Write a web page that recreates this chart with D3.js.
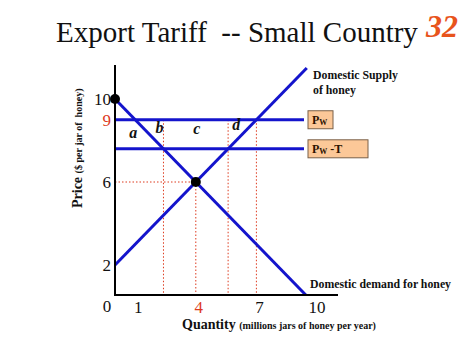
<!DOCTYPE html>
<html>
<head>
<meta charset="utf-8">
<script src="https://cdn.jsdelivr.net/npm/d3@7"></script>
<style>
  body { margin: 0; background: #fff; }
  svg text { font-family: "Liberation Serif", "Times New Roman", serif; }
</style>
</head>
<body>
<svg id="chart"></svg>
<script>
// prices
const worldPrice = 9;
const tariffPrice = 7.6;     // Pw - T
const eqPrice = 6;
const eqQty = 4;
// demand: P = 10 - Q, supply: P = 2 + Q
const demandIntercept = 10;
const supplyIntercept = 2;

const priceTicks = [2, 6, 9, 10];
const qtyTicks = [1, 4, 7, 10];

// quantities where dotted guides drop to the axis
const guideQty = [2.4, 5.6, 7];

const areaLabels = [
  { t: 'a', q: 0.9, p: 8.1 },
  { t: 'b', q: 2.2, p: 8.35 },
  { t: 'c', q: 4.05, p: 8.3 },
  { t: 'd', q: 6.0, p: 8.5 }
];

const W = 474, H = 355;
const svg = d3.select('#chart').attr('width', W).attr('height', H);

const x = d3.scaleLinear().domain([0, 10]).range([115, 317]);
const y = d3.scaleLinear().domain([2, 10]).range([265, 99]);
const floorY = 295, topY = 65, rightX = 338;

const blue = '#1414cc';
const red = '#dd3a1e';

// title
svg.append('text')
  .attr('x', 237).attr('y', 42)
  .attr('text-anchor', 'middle')
  .attr('font-size', 29)
  .attr('fill', '#111')
  .attr('xml:space', 'preserve')
  .text('Export Tariff  -- Small Country');

svg.append('text')
  .attr('x', 442).attr('y', 37)
  .attr('text-anchor', 'middle')
  .attr('font-size', 32)
  .attr('font-weight', 'bold')
  .attr('font-style', 'italic')
  .attr('fill', '#e8541c')
  .text('32');

// dotted guides
const g = svg.append('g');
guideQty.forEach(q => {
  g.append('line')
    .attr('x1', x(q)).attr('x2', x(q))
    .attr('y1', y(worldPrice)).attr('y2', floorY)
    .attr('stroke', red).attr('stroke-width', 1)
    .attr('stroke-dasharray', '1.5,2');
});
g.append('line')
  .attr('x1', x(eqQty)).attr('x2', x(eqQty))
  .attr('y1', y(eqPrice)).attr('y2', floorY)
  .attr('stroke', red).attr('stroke-width', 1)
  .attr('stroke-dasharray', '1.5,2');
g.append('line')
  .attr('x1', x(0)).attr('x2', x(eqQty))
  .attr('y1', y(eqPrice)).attr('y2', y(eqPrice))
  .attr('stroke', red).attr('stroke-width', 1)
  .attr('stroke-dasharray', '1.5,2');

// price lines
const lineEnd = 304;
[worldPrice, tariffPrice].forEach(p => {
  g.append('line')
    .attr('x1', x(0)).attr('x2', lineEnd)
    .attr('y1', y(p)).attr('y2', y(p))
    .attr('stroke', blue).attr('stroke-width', 3);
});

// demand and supply
const pFloor = y.invert(floorY);
const demand = [[0, demandIntercept], [demandIntercept - pFloor, pFloor]];
const pTop = y.invert(68);
const supply = [[0, supplyIntercept], [pTop - supplyIntercept, pTop]];
const line = d3.line().x(d => x(d[0])).y(d => y(d[1]));
[demand, supply].forEach(d => {
  g.append('path').attr('d', line(d))
    .attr('fill', 'none').attr('stroke', blue).attr('stroke-width', 3);
});

// axes
g.append('line').attr('x1', x(0)).attr('x2', x(0)).attr('y1', topY).attr('y2', floorY)
  .attr('stroke', '#000').attr('stroke-width', 2);
g.append('line').attr('x1', x(0) - 1).attr('x2', rightX).attr('y1', floorY).attr('y2', floorY)
  .attr('stroke', '#000').attr('stroke-width', 2);

// dots
g.append('circle').attr('cx', x(0)).attr('cy', y(demandIntercept)).attr('r', 5).attr('fill', '#000');
g.append('circle').attr('cx', x(eqQty)).attr('cy', y(eqPrice)).attr('r', 5).attr('fill', '#000');

// tick labels
svg.selectAll('.ptick').data(priceTicks).enter().append('text')
  .attr('class', 'ptick')
  .attr('x', 111).attr('y', d => y(d) + 6)
  .attr('text-anchor', 'end')
  .attr('font-size', 17)
  .attr('fill', d => d === worldPrice ? red : '#111')
  .text(d => d);

svg.selectAll('.qtick').data(qtyTicks).enter().append('text')
  .attr('class', 'qtick')
  .attr('x', d => x(d) + (d === 10 ? 0 : 3))
  .attr('y', 313)
  .attr('text-anchor', 'middle')
  .attr('font-size', 17)
  .attr('fill', d => d === eqQty ? red : '#111')
  .text(d => d);

svg.append('text').attr('x', 107).attr('y', 312)
  .attr('text-anchor', 'middle').attr('font-size', 17).attr('fill', '#111').text('0');

// area labels
svg.selectAll('.area').data(areaLabels).enter().append('text')
  .attr('x', d => x(d.q)).attr('y', d => y(d.p))
  .attr('text-anchor', 'middle')
  .attr('font-size', 16).attr('font-weight', 'bold').attr('font-style', 'italic')
  .attr('fill', '#111')
  .text(d => d.t);

// price boxes
const boxes = [
  { p: worldPrice, w: 25, sub: '' },
  { p: tariffPrice, w: 60, sub: ' -T' }
];
boxes.forEach(b => {
  const cy = y(b.p);
  svg.append('rect')
    .attr('x', 308).attr('y', cy - 9).attr('width', b.w).attr('height', 18)
    .attr('fill', '#fcc898').attr('stroke', '#7a6048').attr('stroke-width', 1);
  const t = svg.append('text').attr('x', 312).attr('y', cy + 4)
    .attr('font-size', 12).attr('font-weight', 'bold').attr('fill', '#2a1200');
  t.append('tspan').text('P');
  t.append('tspan').attr('font-size', 8).attr('dy', 1).text('W');
  if (b.sub) t.append('tspan').attr('dy', -1).text(b.sub);
});

// curve labels
svg.append('text').attr('x', 313).attr('y', 79)
  .attr('font-size', 11.8).attr('font-weight', 'bold').attr('fill', '#111').text('Domestic Supply');
svg.append('text').attr('x', 313).attr('y', 94)
  .attr('font-size', 11.8).attr('font-weight', 'bold').attr('fill', '#111').text('of honey');
svg.append('text').attr('x', 310).attr('y', 288)
  .attr('font-size', 11.8).attr('font-weight', 'bold').attr('fill', '#111').text('Domestic demand for honey');

// axis titles
const xt = svg.append('text').attr('x', 182).attr('y', 329)
  .attr('font-weight', 'bold').attr('fill', '#111');
xt.append('tspan').attr('font-size', 14).text('Quantity ');
xt.append('tspan').attr('font-size', 10).text('(millions jars of honey per year)');

const yt = svg.append('text')
  .attr('transform', 'translate(82,208) rotate(-90)')
  .attr('font-weight', 'bold').attr('fill', '#111')
  .attr('xml:space', 'preserve');
yt.append('tspan').attr('font-size', 14).text('Price ');
yt.append('tspan').attr('font-size', 10).text('($ per jar of  honey)');
</script>
</body>
</html>
